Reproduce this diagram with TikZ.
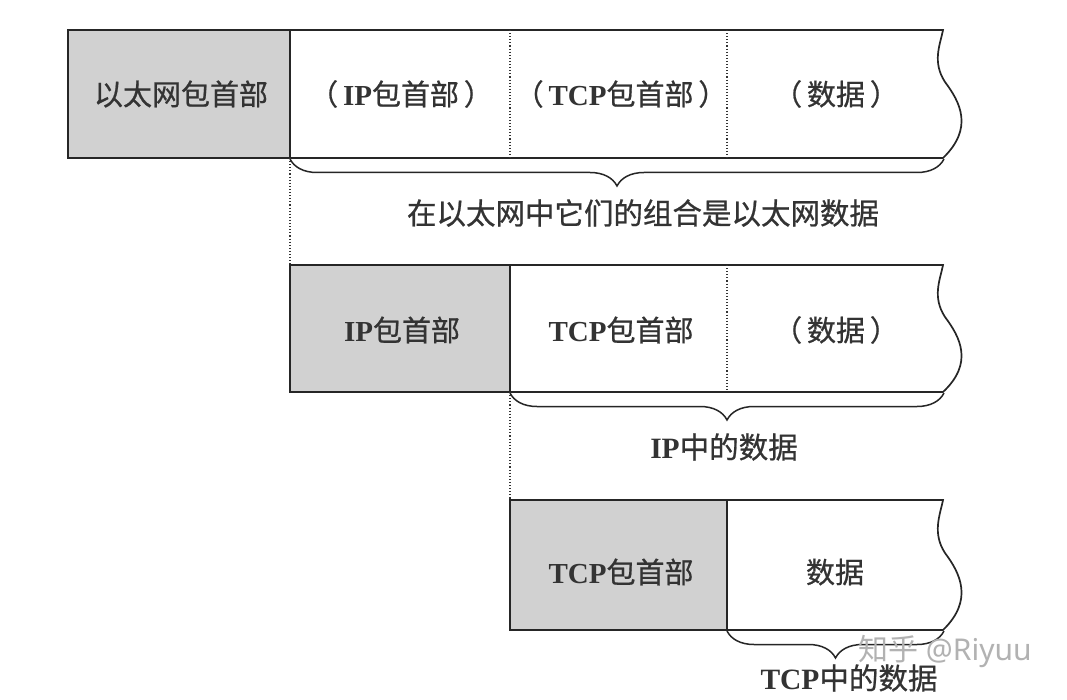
\documentclass[tikz,border=0pt]{standalone}
\usepackage{fontspec}
\setmainfont{Liberation Serif}
\newfontfamily\cjk[BoldFont={*}, BoldFeatures={FakeBold=0.7}]{Noto Sans CJK SC}
\newfontfamily\wmfont{Noto Sans}
\newfontfamily\wmcjk{Noto Sans CJK SC}
\usetikzlibrary{decorations.pathreplacing}
\begin{document}
\begin{tikzpicture}[x=1pt,y=-1pt,
  box/.style={line width=1.7pt, draw=black!85},
  sep/.style={line width=1.1pt, dotted, draw=black!80},
  lbl/.style={font=\fontsize{29}{32}\selectfont\bfseries, text=black!80, inner sep=0pt},
  brc/.style={line width=1.5pt, draw=black!85, decorate, decoration={brace, amplitude=27pt}},
  captxt/.style={font=\fontsize{29.5}{33}\selectfont\bfseries, text=black!80, inner sep=0pt}]
\useasboundingbox (0,0) rectangle (1067,700);
\fill[white] (0,0) rectangle (1067,700);

% ---------- row 1 ----------
\fill[black!18] (68,30) rectangle (290,158);
\draw[box] (290,30) -- (68,30) -- (68,158) -- (290,158);
\draw[box] (290,30) -- (943,30) .. controls (940,45) and (932,62) .. (945,82) .. controls (960,102) and (974,128) .. (943,158) -- (290,158) -- cycle;
\draw[sep] (510,30) -- (510,158);
\draw[sep] (727,30) -- (727,158);
\node[lbl] (eh) at (181,94) {\cjk 以太网包首部};
\node[lbl] (ip1) at (401,94) {{\cjk （}\,IP{\cjk 包首部}\,{\cjk ）}};
\node[lbl] (tcp1) at (621,94) {{\cjk （}\,TCP{\cjk 包首部}\,{\cjk ）}};
\node[lbl] (d1) at (836,94) {{\cjk （}\,{\cjk 数据}\,{\cjk ）}};
\coordinate (b1l) at (290,159);
\coordinate (b1r) at (944,159);
\draw[brc] (b1r) -- (b1l);
\node[captxt] (c1) at (643,213) {\cjk 在以太网中它们的组合是以太网数据};

% connector
\coordinate (v1a) at (290,158);
\coordinate (v1b) at (290,265);
\draw[sep] (v1a) -- (v1b);

% ---------- row 2 ----------
\fill[black!18] (290,265) rectangle (510,392);
\draw[box] (510,265) -- (290,265) -- (290,392) -- (510,392);
\draw[box] (510,265) -- (943,265) .. controls (940,280) and (932,297) .. (945,317) .. controls (960,337) and (974,363) .. (943,392) -- (510,392) -- cycle;
\draw[sep] (727,265) -- (727,392);
\node[lbl] (ip2) at (402,330) {IP{\cjk 包首部}};
\node[lbl] (tcp2) at (621,330) {TCP{\cjk 包首部}};
\node[lbl] (d2) at (836,330) {{\cjk （}\,{\cjk 数据}\,{\cjk ）}};
\coordinate (b2l) at (510,393);
\coordinate (b2r) at (944,393);
\draw[brc] (b2r) -- (b2l);
\node[captxt] (c2) at (724,447) {IP{\cjk 中的数据}};

\coordinate (v2a) at (510,392);
\coordinate (v2b) at (510,500);
\draw[sep] (v2a) -- (v2b);

% ---------- row 3 ----------
\fill[black!18] (510,500) rectangle (727,630);
\draw[box] (727,500) -- (510,500) -- (510,630) -- (727,630);
\draw[box] (727,500) -- (943,500) .. controls (940,515) and (932,533) .. (945,553) .. controls (960,573) and (974,600) .. (943,630) -- (727,630) -- cycle;
\node[lbl] (tcp3) at (621,572) {TCP{\cjk 包首部}};
\node[lbl] (d3) at (835,572) {\cjk 数据};
\coordinate (b3l) at (727,631);
\coordinate (b3r) at (944,631);
\draw[brc] (b3r) -- (b3l);
\node[captxt] (c3) at (849,678) {TCP{\cjk 中的数据}};

% watermark
\node[inner sep=0pt, text=black!30, font=\fontsize{30}{33}\selectfont] (wm) at (945,651) {{\wmcjk 知乎} \wmfont @Riyuu};
\end{tikzpicture}
\end{document}
